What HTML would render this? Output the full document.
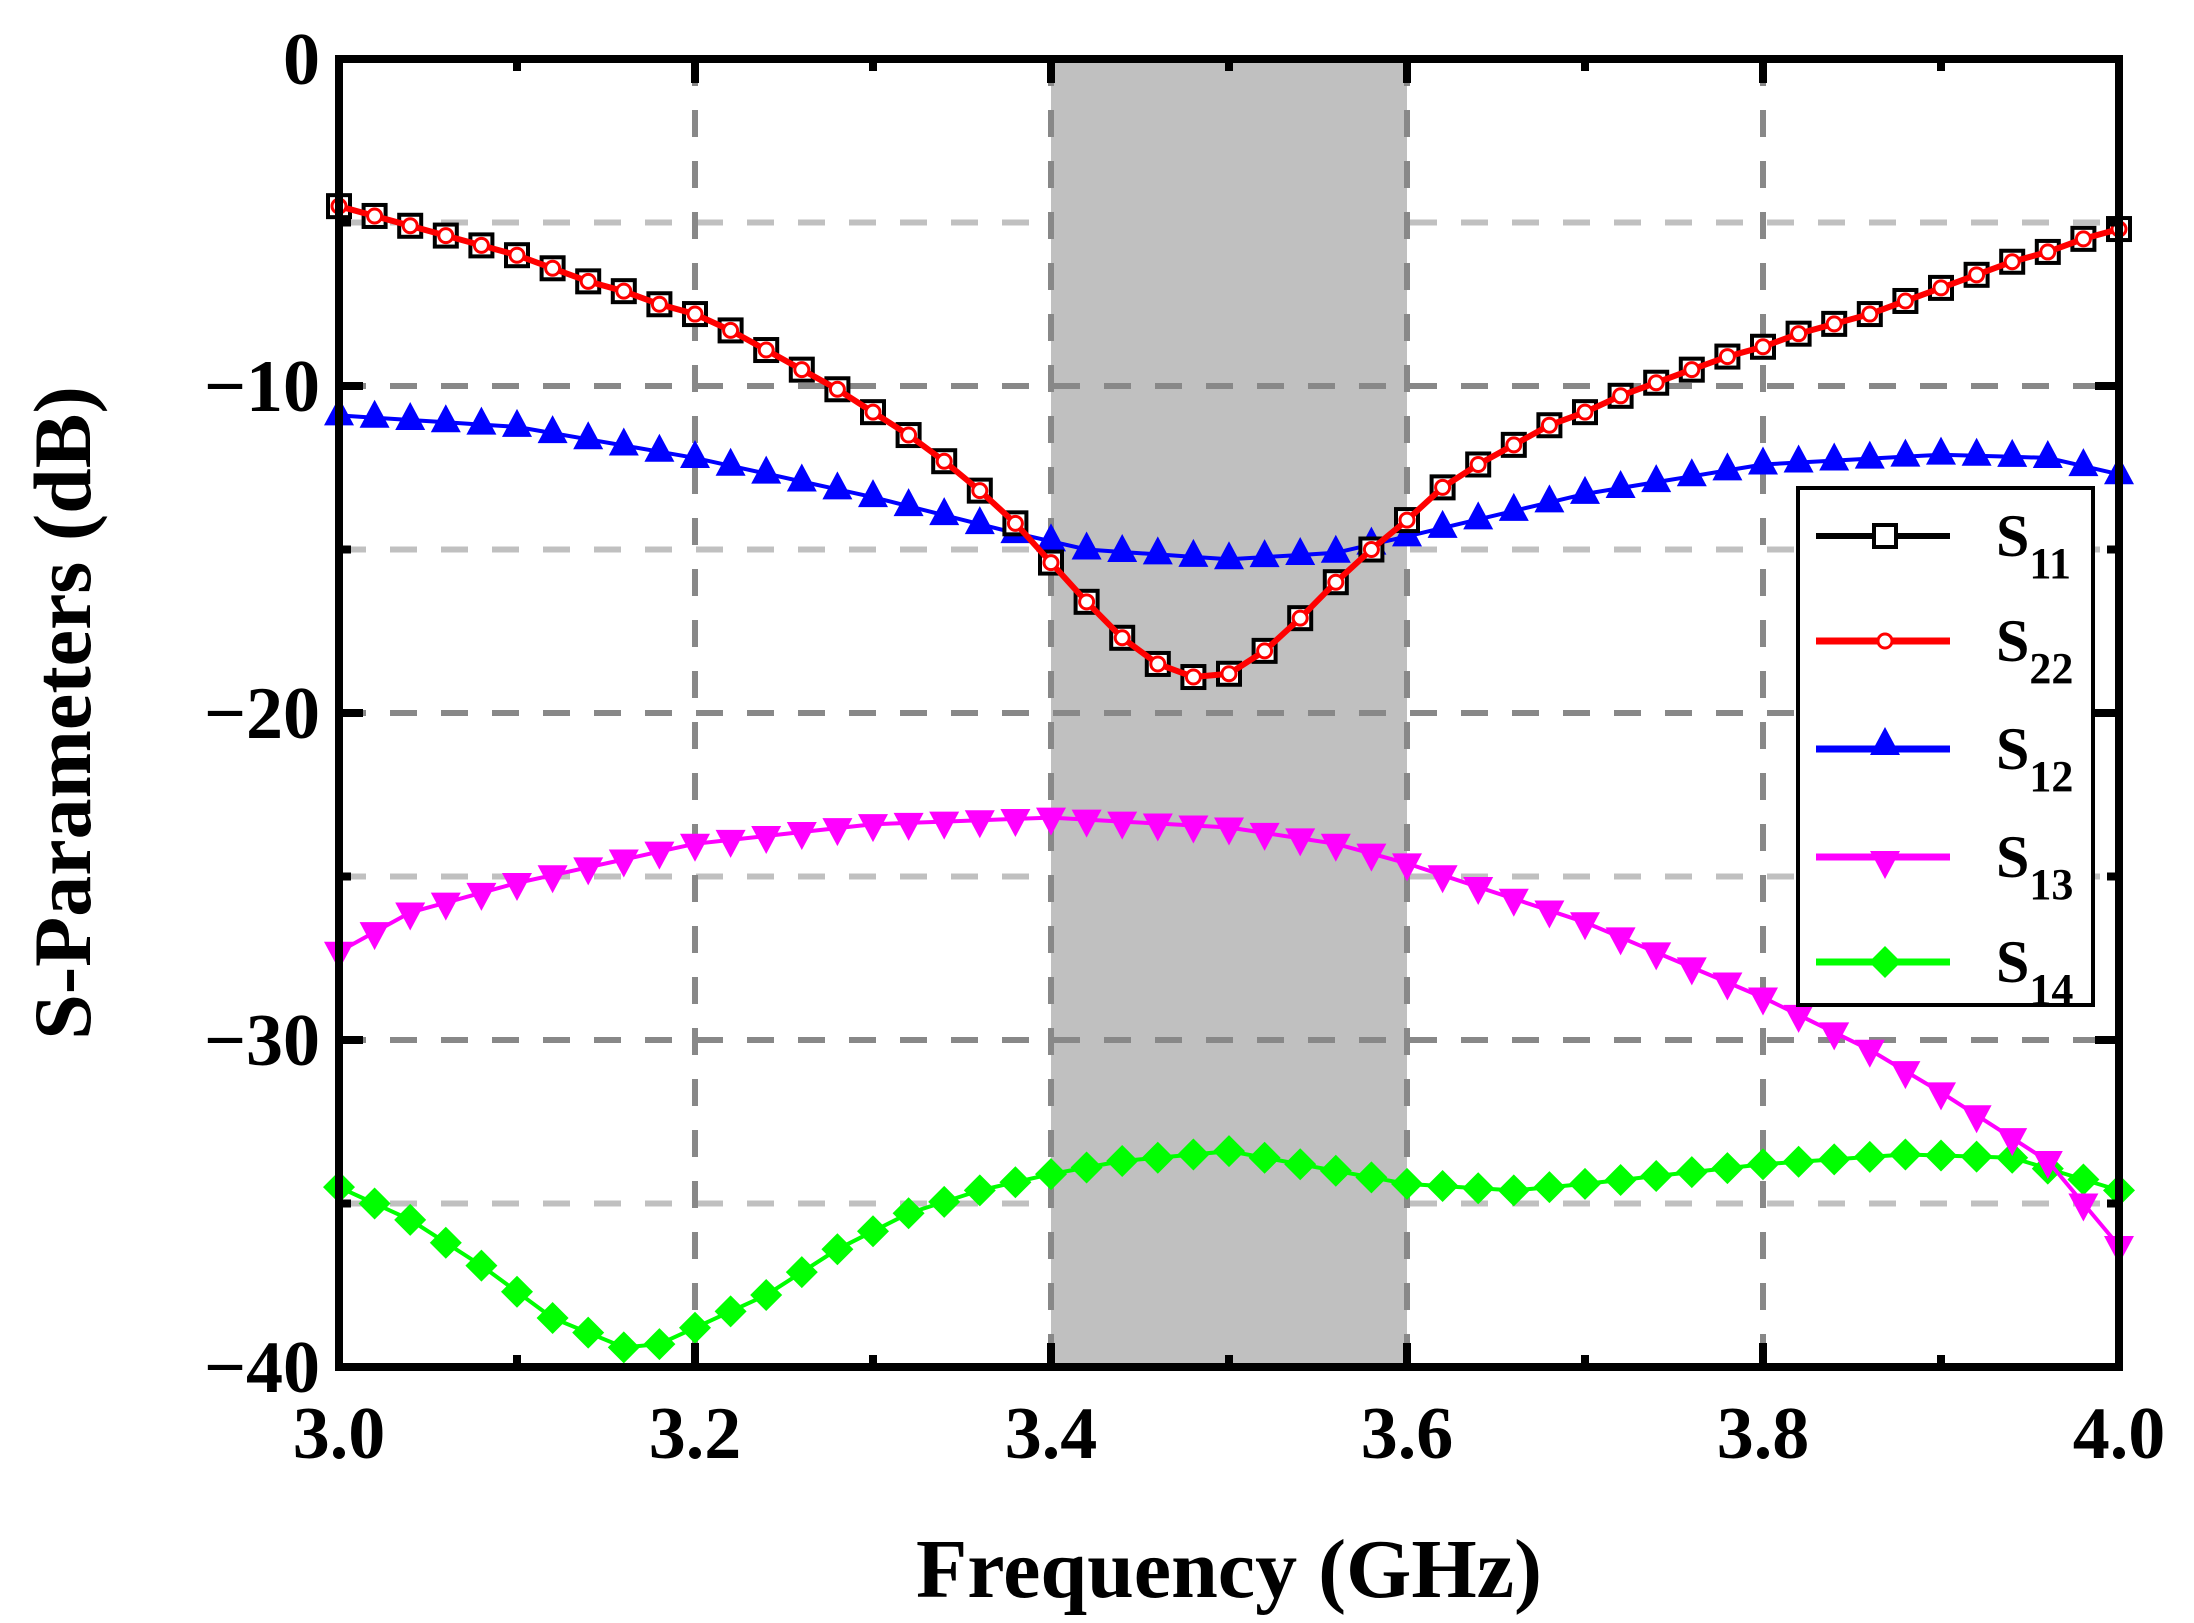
<!DOCTYPE html>
<html><head><meta charset="utf-8"><style>
html,body{margin:0;padding:0;background:#fff;}
svg{display:block;}
text{font-family:"Liberation Serif",serif;font-weight:bold;fill:#000;}
</style></head><body>
<svg id="s" width="2194" height="1623" viewBox="0 0 2194 1623" xmlns="http://www.w3.org/2000/svg">
<g id="g"></g>
</svg>
<script>
const X0=339,X1=2119,Y0=59,Y1=1367;
const xs=f=>X0+(f-3)*(X1-X0);
const ys=d=>Y0+(-d)/40*(Y1-Y0);
let h='';
// shaded band
h+=`<rect x="${xs(3.4)}" y="${Y0}" width="${xs(3.6)-xs(3.4)}" height="${Y1-Y0}" fill="#c0c0c0"/>`;
// light horizontal grid
[-5,-15,-25,-35].forEach(d=>h+=`<line x1="${X0}" x2="${X1}" y1="${ys(d)}" y2="${ys(d)}" stroke="#c0c0c0" stroke-width="6" stroke-dasharray="27,24"/>`);
[-10,-20,-30].forEach(d=>h+=`<line x1="${X0}" x2="${X1}" y1="${ys(d)}" y2="${ys(d)}" stroke="#888" stroke-width="6" stroke-dasharray="27,24"/>`);
[3.2,3.4,3.6,3.8].forEach(f=>h+=`<line x1="${xs(f)}" x2="${xs(f)}" y1="${Y0}" y2="${Y1}" stroke="#888" stroke-width="6" stroke-dasharray="27,24"/>`);
function interp(a,f){for(let i=0;i<a.length-1;i++){if(f<=a[i+1][0]+1e-9){const t=(f-a[i][0])/(a[i+1][0]-a[i][0]);return a[i][1]+t*(a[i+1][1]-a[i][1]);}}return a[a.length-1][1];}
const s11v=[-4.5,-4.8,-5.1,-5.4,-5.7,-6.0,-6.4,-6.8,-7.1,-7.5,-7.8,-8.3,-8.9,-9.5,-10.1,-10.8,-11.5,-12.3,-13.2,-14.2,-15.4,-16.6,-17.7,-18.5,-18.9,-18.8,-18.1,-17.1,-16.0,-15.0,-14.1,-13.1,-12.4,-11.8,-11.2,-10.8,-10.3,-9.9,-9.5,-9.1,-8.8,-8.4,-8.1,-7.8,-7.4,-7.0,-6.6,-6.2,-5.9,-5.5,-5.2];
const s12a=[[3,-10.9],[3.1,-11.25],[3.2,-12.2],[3.3,-13.4],[3.38,-14.5],[3.42,-15.0],[3.5,-15.3],[3.56,-15.1],[3.6,-14.6],[3.7,-13.3],[3.8,-12.4],[3.9,-12.1],[3.96,-12.2],[4,-12.7]];
const s13a=[[3,-27.3],[3.04,-26.1],[3.1,-25.2],[3.2,-24.0],[3.3,-23.4],[3.4,-23.2],[3.5,-23.5],[3.56,-24.0],[3.6,-24.6],[3.7,-26.4],[3.8,-28.7],[3.86,-30.3],[3.9,-31.6],[3.96,-33.7],[4,-36.3]];
const s14a=[[3,-34.5],[3.04,-35.5],[3.08,-36.9],[3.12,-38.5],[3.16,-39.4],[3.18,-39.3],[3.2,-38.8],[3.24,-37.8],[3.28,-36.4],[3.32,-35.3],[3.36,-34.6],[3.4,-34.1],[3.44,-33.7],[3.5,-33.4],[3.54,-33.8],[3.6,-34.4],[3.66,-34.6],[3.7,-34.4],[3.8,-33.8],[3.88,-33.5],[3.94,-33.6],[4,-34.6]];
const F=[];for(let i=0;i<=50;i++)F.push(3+i*0.02);
function pts(fn){return F.map(f=>[xs(f),ys(fn(f))]);}
const P11=F.map((f,i)=>[xs(f),ys(s11v[i])]);
const P12=pts(f=>interp(s12a,f)),P13=pts(f=>interp(s13a,f)),P14=pts(f=>interp(s14a,f));
const pl=(P,c,w)=>`<polyline points="${P.map(p=>p[0].toFixed(1)+','+p[1].toFixed(1)).join(' ')}" fill="none" stroke="${c}" stroke-width="${w}"/>`;
const sq=(x,y)=>`<rect x="${x-11}" y="${y-11}" width="22" height="22" fill="#fff" stroke="#000" stroke-width="4"/>`;
const ci=(x,y)=>`<circle cx="${x}" cy="${y}" r="7" fill="#fff" stroke="#f00" stroke-width="3"/>`;
const tu=(x,y,c)=>`<polygon points="${x},${y-18} ${x-15},${y+10} ${x+15},${y+10}" fill="${c}"/>`;
const td=(x,y,c)=>`<polygon points="${x},${y+18} ${x-15},${y-10} ${x+15},${y-10}" fill="${c}"/>`;
const di=(x,y,c)=>`<polygon points="${x},${y-16} ${x+16},${y} ${x},${y+16} ${x-16},${y}" fill="${c}"/>`;
// series
h+=pl(P14,'#0f0',4);P14.forEach(p=>h+=di(p[0],p[1],'#0f0'));
h+=pl(P13,'#f0f',4);P13.forEach(p=>h+=td(p[0],p[1],'#f0f'));
h+=pl(P12,'#00f',4);P12.forEach(p=>h+=tu(p[0],p[1],'#00f'));
h+=pl(P11,'#000',4);P11.forEach(p=>h+=sq(p[0],p[1]));
h+=pl(P11,'#f00',6);P11.forEach(p=>h+=ci(p[0],p[1]));
// axes frame
h+=`<rect x="${X0}" y="${Y0}" width="${X1-X0}" height="${Y1-Y0}" fill="none" stroke="#000" stroke-width="8"/>`;
// ticks
for(let i=0;i<=10;i++){const x=xs(3+i*0.1),L=i%2?12:24;
 h+=`<line x1="${x}" x2="${x}" y1="${Y1}" y2="${Y1-L}" stroke="#000" stroke-width="8"/><line x1="${x}" x2="${x}" y1="${Y0}" y2="${Y0+L}" stroke="#000" stroke-width="8"/>`;}
for(let i=0;i<=8;i++){const y=ys(-i*5),L=i%2?12:24;
 h+=`<line x1="${X0}" x2="${X0+L}" y1="${y}" y2="${y}" stroke="#000" stroke-width="8"/><line x1="${X1}" x2="${X1-L}" y1="${y}" y2="${y}" stroke="#000" stroke-width="8"/>`;}
// tick labels
['3.0','3.2','3.4','3.6','3.8','4.0'].forEach((t,i)=>h+=`<text x="${xs(3+i*0.2)}" y="1458" font-size="74" text-anchor="middle">${t}</text>`);
['0','\u221210','\u221220','\u221230','\u221240'].forEach((t,i)=>h+=`<text x="320" y="${ys(-i*10)+25}" font-size="74" text-anchor="end">${t}</text>`);
// axis titles
h+=`<text x="1229" y="1597" font-size="84" text-anchor="middle">Frequency (GHz)</text>`;
h+=`<text transform="translate(90,713) rotate(-90)" x="0" y="0" font-size="82" text-anchor="middle">S-Parameters (dB)</text>`;
// legend
h+=`<rect x="1798" y="488" width="295" height="517" fill="#fff" stroke="#000" stroke-width="4"/>`;
const rows=[[536,'11'],[641,'22'],[749,'12'],[857,'13'],[962,'14']];
rows.forEach((r,i)=>{const y=r[0],x1=1816,x2=1950,m=1885;
 if(i==0){h+=`<line x1="${x1}" x2="${x2}" y1="${y}" y2="${y}" stroke="#000" stroke-width="6"/>`+sq(m,y);}
 if(i==1){h+=`<line x1="${x1}" x2="${x2}" y1="${y}" y2="${y}" stroke="#f00" stroke-width="7"/>`+ci(m,y);}
 if(i==2){h+=`<line x1="${x1}" x2="${x2}" y1="${y}" y2="${y}" stroke="#00f" stroke-width="7"/>`+tu(m,y-4,'#00f');}
 if(i==3){h+=`<line x1="${x1}" x2="${x2}" y1="${y}" y2="${y}" stroke="#f0f" stroke-width="7"/>`+td(m,y+4,'#f0f');}
 if(i==4){h+=`<line x1="${x1}" x2="${x2}" y1="${y}" y2="${y}" stroke="#0f0" stroke-width="7"/>`+di(m,y,'#0f0');}
 h+=`<text x="1996" y="${y+20}" font-size="60">S<tspan font-size="44" dy="22">${r[1]}</tspan></text>`;
});
document.getElementById('g').innerHTML=h;
</script>
</body></html>
